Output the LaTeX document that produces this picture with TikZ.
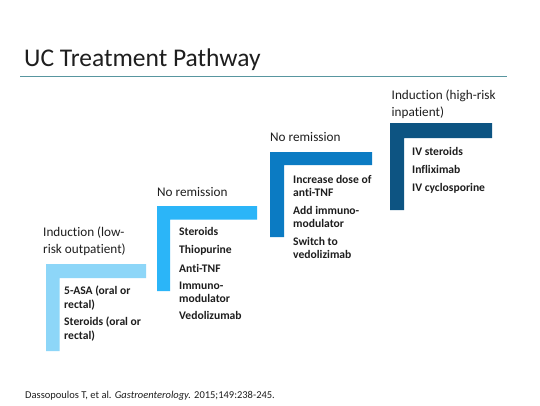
\documentclass[tikz,border=0pt]{standalone}
\usepackage{fontspec}
\setmainfont{Carlito}[Ligatures={NoCommon}]
\definecolor{txt}{RGB}{30,30,30}
\definecolor{rulec}{RGB}{88,150,160}
\definecolor{stepa}{RGB}{141,214,248}
\definecolor{stepb}{RGB}{43,181,248}
\definecolor{stepc}{RGB}{11,123,195}
\definecolor{stepd}{RGB}{13,84,130}
\begin{document}
\begin{tikzpicture}[x=1pt,y=-1pt,
  item/.style={font=\fontsize{11.6}{13}\selectfont\bfseries, anchor=base west, inner sep=0pt, text=txt},
  lab/.style={font=\fontsize{13.2}{16}\selectfont, anchor=base west, inner sep=0pt, text=txt}]
\useasboundingbox[fill=white] (0,0) rectangle (540,405);
% title
\node[anchor=base west, inner sep=0pt, text=txt, font=\fontsize{25.5}{28}\selectfont] (title) at (24,66) {UC Treatment Pathway};
\coordinate (ruleL) at (20,76.7);
\coordinate (ruleR) at (507,76.7);
\draw[rulec, line width=1pt] (ruleL) -- (ruleR);
% steps
\fill[stepa] (46,264) -- (146,264) -- (146,278) -- (59.5,278) -- (59.5,351) -- (46,351) -- cycle;
\fill[stepb] (157,206) -- (257,206) -- (257,219.5) -- (170,219.5) -- (170,291) -- (157,291) -- cycle;
\fill[stepc] (270,152) -- (372,152) -- (372,165) -- (284,165) -- (284,237) -- (270,237) -- cycle;
\fill[stepd] (390,123) -- (492,123) -- (492,138) -- (404,138) -- (404,210) -- (390,210) -- cycle;
% labels
\node[lab] (l1a) at (43,236) {Induction (low-};
\node[lab] (l1b) at (43,253) {risk outpatient)};
\node[lab] (l2) at (157,196) {No remission};
\node[lab] (l3) at (270,141) {No remission};
\node[lab] (l4a) at (391.5,99.2) {Induction (high-risk};
\node[lab] (l4b) at (391.5,116) {inpatient)};
% step 1 items
\node[item] (a1) at (64,294.5) {5-ASA (oral or};
\node[item] (a2) at (64,308) {rectal)};
\node[item] (a3) at (64,325.8) {Steroids (oral or};
\node[item] (a4) at (64,339.3) {rectal)};
% step 2 items
\node[item] (b1) at (179,235) {Steroids};
\node[item] (b2) at (179,253.5) {Thiopurine};
\node[item] (b3) at (179,272) {Anti-TNF};
\node[item] (b4) at (179,289.5) {Immuno-};
\node[item] (b5) at (179,302) {modulator};
\node[item] (b6) at (179,319.5) {Vedolizumab};
% step 3 items
\node[item] (c1) at (293,183.5) {Increase dose of};
\node[item] (c2) at (293,196.8) {anti-TNF};
\node[item] (c3) at (293,214.5) {Add immuno-};
\node[item] (c4) at (293,227.8) {modulator};
\node[item] (c5) at (293,245.8) {Switch to};
\node[item] (c6) at (293,258.6) {vedolizimab};
% step 4 items
\node[item] (d1) at (412,155.2) {IV steroids};
\node[item] (d2) at (412,173.5) {Infliximab};
\node[item] (d3) at (412,191.8) {IV cyclosporine};
% footnote
\node[anchor=base west, inner sep=0pt, text=txt, font=\fontsize{10.5}{12}\selectfont] (foot) at (25,398) {Dassopoulos T, et al. \textit{Gastroenterology.} 2015;149:238-245.};
\end{tikzpicture}
\end{document}
